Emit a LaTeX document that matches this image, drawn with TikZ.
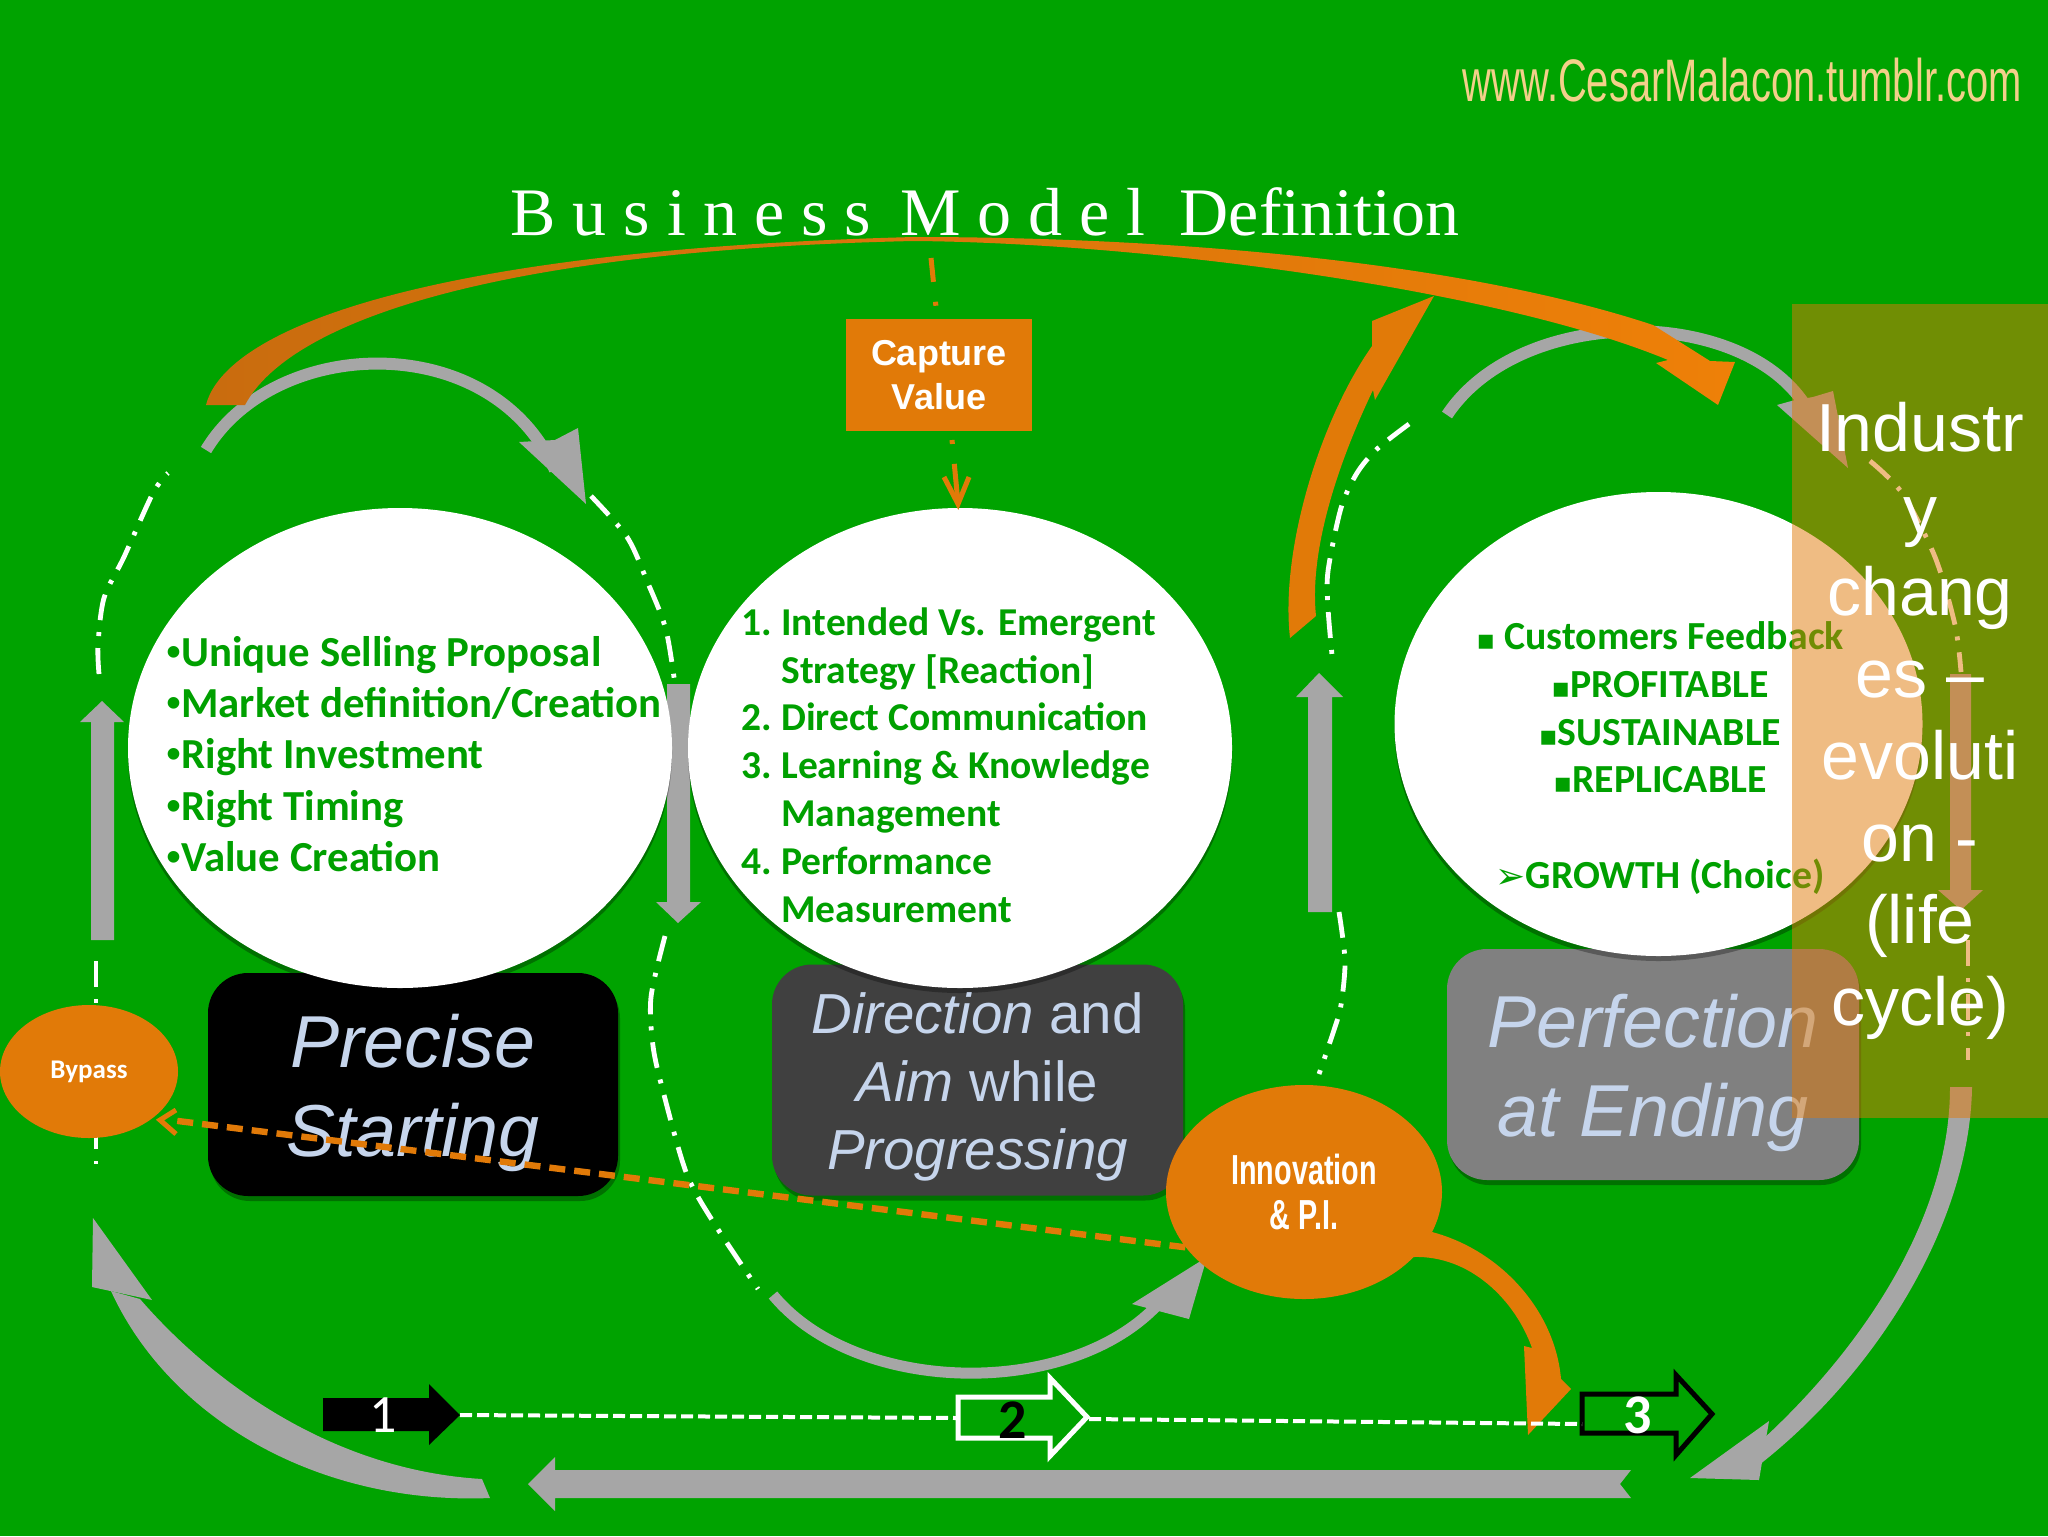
\documentclass[tikz,border=0pt]{standalone}
\usepackage{fontspec}
\usepackage{graphicx}
\usetikzlibrary{shapes.geometric,arrows.meta,shadows}
\setmainfont{Liberation Sans}
\newfontfamily\carl{Carlito}
\newfontfamily\ser{Liberation Serif}
\newfontfamily\djv{DejaVu Sans}
\newcommand{\blt}{{\rmfamily\mdseries •}}
\definecolor{bggreen}{HTML}{00A300}
\definecolor{txtgreen}{HTML}{00A000}
\definecolor{orng}{HTML}{E17A08}
\definecolor{orngdark}{HTML}{C96C0E}
\definecolor{orngbright}{HTML}{EE8008}
\definecolor{gry}{HTML}{A6A6A6}
\definecolor{lblue}{HTML}{C6D5EC}
\definecolor{urlc}{HTML}{F2D08A}
\tikzset{
  grayarc/.style={draw=gry,line width=6pt},
  grayfill/.style={fill=gry},
  orfill/.style={fill=orng},
  wdash/.style={draw=white,line width=2.4pt,dash pattern=on 13pt off 6pt on 2pt off 6pt},
  wnum/.style={draw=white,line width=2pt,dash pattern=on 6pt off 2.5pt},
  ordash/.style={draw=orng,line width=3.2pt,dash pattern=on 8pt off 4.5pt},
  capdash/.style={draw=orng,line width=2.5pt},
  bigell/.style={ellipse,fill=white,inner sep=0pt,drop shadow={shadow xshift=0pt,shadow yshift=-2.5pt,opacity=.3,fill=black}},
  stepbox/.style={rounded corners=20pt,inner sep=0pt,drop shadow={shadow xshift=1pt,shadow yshift=-2.5pt,opacity=.3,fill=black}},
  steptxt/.style={inner sep=0pt,text=lblue,align=center},
  orell/.style={ellipse,fill=orng,inner sep=0pt,text=white,align=center},
  greentxt/.style={inner sep=0pt,text=txtgreen},
}
\begin{document}
\begin{tikzpicture}[x=0.5pt,y=-0.5pt]
\useasboundingbox (0,0) rectangle (2048,1536);
\fill[bggreen] (0,0) rectangle (2048,1536);

% header texts
\node[anchor=east,inner sep=0pt,text=urlc] (url) at (2022,80) {\scalebox{0.665}[1]{\fontsize{30}{34}\selectfont www.CesarMalacon.tumblr.com}};
\node[anchor=west,inner sep=0pt,text=white] (title) at (510,212) {\ser\fontsize{34}{40}\selectfont B u s i n e s s\hspace{6pt} M o d e l\hspace{8.5pt} Definition};

% white dash-dot rings
\draw[wdash] plot[smooth] coordinates {(99,674)(98,645)(104,598)(124,557)(153,493)(168,473)};
\draw[wdash] plot[smooth] coordinates {(591,496)(627,537)(647,581)(666,630)(676,692)};
\draw[wdash] plot[smooth] coordinates {(1409,424)(1377,449)(1357,473)(1341,508)(1328,571)(1328,608)(1332,655)};
\draw[wdash] plot[smooth] coordinates {(1870,461)(1902,493)(1935,557)(1955,625)(1961,672)};
\draw[wdash] (1968,940) -- (1968,1060);
\draw[wdash] plot[smooth] coordinates {(665,936)(651,997)(653,1046)(663,1091)(686,1172)(712,1220)(758,1289)};
\draw[wdash] plot[smooth] coordinates {(1339,912)(1345,961)(1341,1005)(1334,1030)(1319,1074)};
\draw[wdash] (96,961) -- (96,1164);

% grey arcs
\draw[grayarc] (206,450) .. controls (275,335) and (492,328) .. (555,470);
\fill[grayfill] (586,504) -- (519,442) -- (555,440) -- (578,428) -- cycle;
\draw[grayarc] (1447,415) .. controls (1520,305) and (1740,305) .. (1805,405);
\fill[grayfill] (1848,468) -- (1777,405) -- (1795,400) -- (1813,397) -- (1833,391) -- cycle;
\draw[grayarc,line width=5.5pt] (773,1295) .. controls (860,1400) and (1089,1400) .. (1170,1290);
\fill[grayfill] (1207,1257) -- (1132,1304) -- (1189,1319) -- cycle;
% bottom-left tapered
\fill[grayfill] (111,1291) .. controls (170,1420) and (320,1505) .. (490,1498) -- (482,1479) .. controls (330,1470) and (210,1380) .. (140,1299) -- cycle;
\fill[grayfill] (93,1218) -- (92,1287) -- (152,1300) -- cycle;
% bottom-right tapered
\fill[grayfill] (1972,1087) .. controls (1970,1220) and (1880,1370) .. (1759,1465) -- (1762,1440) .. controls (1860,1350) and (1950,1220) .. (1950,1087) -- cycle;
\fill[grayfill] (1690,1478) -- (1769,1421) -- (1759,1480) -- cycle;

% straight grey arrows
\fill[grayfill] (91,940) -- (91,722) -- (80,722) -- (102,701) -- (124,722) -- (114,722) -- (114,940) -- cycle;
\fill[grayfill] (667,684) -- (690,684) -- (690,902) -- (701,902) -- (678,923) -- (656,902) -- (667,902) -- cycle;
\fill[grayfill] (1308,912) -- (1308,697) -- (1296,697) -- (1319,673) -- (1343,697) -- (1332,697) -- (1332,912) -- cycle;
\fill[grayfill] (1950,674) -- (1971,674) -- (1971,890) -- (1983,890) -- (1961,910) -- (1938,890) -- (1950,890) -- cycle;
\fill[grayfill] (1631,1470) -- (555,1470) -- (555,1457) -- (528,1484) -- (555,1511) -- (555,1498) -- (1631,1498) -- (1620,1484) -- cycle;

% orange swoops
\shade[left color=orngdark,right color=orngbright] (206,405) .. controls (225,330) and (420,250) .. (914,237) .. controls (1150,237) and (1450,258) .. (1653,325) -- (1710,361) -- (1735,362) -- (1718,405) -- (1656,363) -- (1668,360) .. controls (1500,290) and (1150,243) .. (914,241) .. controls (500,250) and (290,320) .. (245,405) -- cycle;
\fill[orfill] (1290,638) .. controls (1280,550) and (1320,420) .. (1372,346) -- (1372,321) -- (1434,296) -- (1375,400) -- (1373,390) .. controls (1330,480) and (1310,560) .. (1316,616) -- cycle;

% step boxes
\node[stepbox,fill=black,minimum width=205pt,minimum height=111.5pt] (box1) at (413,1084.5) {};
\node[stepbox,fill=black!75,minimum width=205.5pt,minimum height=115.5pt] (box2) at (977.5,1080) {};
\node[stepbox,fill=black!50,minimum width=206pt,minimum height=115.5pt] (box3) at (1653,1064.5) {};

% white ellipses
\node[bigell,minimum width=272pt,minimum height=240pt] (ell1) at (400,748) {};
\node[bigell,minimum width=272pt,minimum height=240pt] (ell2) at (960,748) {};
\node[bigell,minimum width=264pt,minimum height=232pt] (ell3) at (1658.5,724) {};

% box labels
\node[steptxt,font=\fontsize{36.8}{44.5}\selectfont\itshape] (lab1) at ([yshift=-4pt]box1.center) {Precise\\Starting};
\node[steptxt,font=\fontsize{28.2}{34}\selectfont] (lab2) at ([yshift=-3.5pt]box2.center) {\textit{Direction} and\\\textit{Aim} while\\\textit{Progressing}};
\node[steptxt,font=\fontsize{36.8}{44.5}\selectfont\itshape] (lab3) at ([yshift=-4pt]box3.center) {Perfection\\at Ending};

\node[greentxt,anchor=west,align=left,font=\carl\bfseries\fontsize{21.4}{25.6}\selectfont] (t1) at (166,754) {\blt Unique Selling Proposal\\\blt Market definition/Creation\\\blt Right Investment\\\blt Right Timing\\\blt Value Creation};
\node[greentxt,anchor=west,align=left,font=\carl\bfseries\fontsize{19.75}{23.9}\selectfont] (t2) at (741,765) {\makebox[20pt][l]{1.}Intended Vs. Emergent\\\hspace*{20pt}Strategy [Reaction]\\\makebox[20pt][l]{2.}Direct Communication\\\makebox[20pt][l]{3.}Learning \& Knowledge\\\hspace*{20pt}Management\\\makebox[20pt][l]{4.}Performance\\\hspace*{20pt}Measurement};
\node[greentxt,align=center,font=\carl\bfseries\fontsize{19.9}{23.9}\selectfont] (t3) at (1660,758) {{\djv\fontsize{14}{12}\selectfont ▪} Customers Feedback\\{\djv\fontsize{14}{12}\selectfont ▪}PROFITABLE\\{\djv\fontsize{14}{12}\selectfont ▪}SUSTAINABLE\\{\djv\fontsize{14}{12}\selectfont ▪}REPLICABLE\\[23.9pt]{\djv\fontsize{18}{16}\selectfont ➢}GROWTH (Choice)};

% orange nodes
\node[orell,minimum width=89pt,minimum height=66.5pt,font=\carl\bfseries\fontsize{13.5}{16}\selectfont] (byp) at (89,1071.5) {\raisebox{-1.5pt}{Bypass}};
\node[orell,minimum width=138pt,minimum height=107pt,font=\bfseries\fontsize{21}{22.5}\selectfont] (inn) at (1304,1192) {\scalebox{0.685}[1]{Innovation}\\\scalebox{0.685}[1]{\& P.I.}};
\node[fill=orng,text=white,align=center,inner sep=0pt,minimum width=93pt,minimum height=56pt,font=\bfseries\fontsize{18}{22}\selectfont] (cap) at (939,375) {Capture\\Value};

% orange swoop from innovation
\fill[orfill] (1432,1232) .. controls (1500,1250) and (1555,1310) .. (1561,1379) -- (1571,1389) -- (1528,1435) -- (1524,1346) -- (1532,1348) .. controls (1515,1300) and (1470,1255) .. (1413,1257) -- cycle;

% numbered arrows
\fill[black] (323,1398) -- (429,1398) -- (429,1384) -- (460,1415) -- (429,1445) -- (429,1431) -- (323,1431) -- cycle;
\coordinate (tip1) at (460,1415);
\node[text=white,inner sep=0pt,font=\carl\fontsize{27}{27}\selectfont] (n1) at (383,1415) {1};
\draw[white,line width=2.5pt] (958,1397) -- (1050,1397) -- (1050,1378) -- (1087,1417) -- (1050,1456) -- (1050,1438) -- (958,1438) -- cycle;
\coordinate (in2) at (958,1418);
\coordinate (tip2) at (1089,1419);
\node[text=black,inner sep=0pt,font=\carl\bfseries\fontsize{28}{28}\selectfont] (n2) at (1013,1420) {2};
\draw[black,line width=2.5pt] (1582,1394) -- (1676,1394) -- (1676,1375) -- (1712,1414) -- (1676,1455) -- (1676,1433) -- (1582,1433) -- cycle;
\coordinate (in3) at (1582,1424);
\node[text=white,inner sep=0pt,font=\carl\bfseries\fontsize{28}{28}\selectfont] (n3) at (1638,1415) {3};
\draw[wnum] (tip1) -- (in2);
\draw[wnum] (tip2) -- (in3);

% orange dashed connectors
\coordinate (capup) at (931,258);
\coordinate (capupend) at (936,307);
\draw[capdash,dash pattern=on 12pt off 10pt on 2pt off 10pt] (capup) -- (capupend);
\coordinate (capdnst) at (952,440);
\coordinate (capdn) at (958,503);
\draw[capdash,dash pattern=on 2pt off 10pt on 20pt off 10pt] (capdnst) -- (capdn);
\draw[capdash] (944,477) -- (958,504) -- (969,477);
\coordinate (bypin) at (170,1120);
\draw[ordash] (inn.205) -- (bypin);
\draw[orng,line width=2.5pt] (176,1110) -- (160,1120) -- (176,1134);

% overlay
\fill[orng,opacity=.5] (1792,304) rectangle (2048,1118);
\node[text=white,inner sep=0pt,align=center,font=\fontsize{34}{41}\selectfont] (ind) at (1920,721) {Industr\\y\\chang\\es --\\evoluti\\on -\\(life\\cycle)};
\end{tikzpicture}
\end{document}
